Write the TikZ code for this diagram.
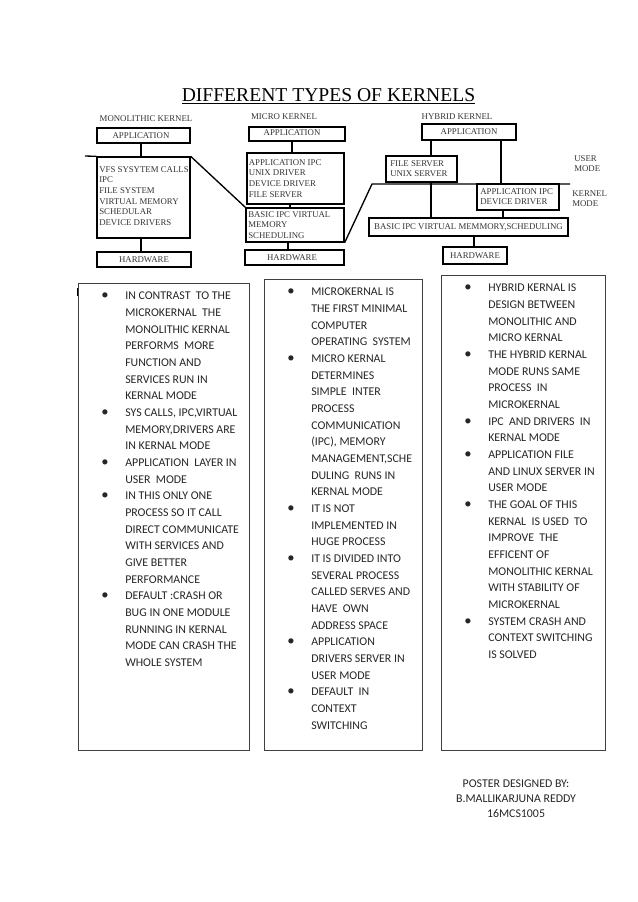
\documentclass[tikz,border=0pt]{standalone}
\usepackage{fontspec}
\setmainfont{Liberation Serif}
\newfontfamily\bodyfont{Carlito}
\usetikzlibrary{positioning}
\newcommand{\itm}{\llap{{\fontsize{11}{12.53}\selectfont\textbullet}\hspace{12.5pt}}}
\tikzset{
  sized/.style 2 args = {minimum width=#1*0.75pt, minimum height=#2*0.75pt},
  box/.style = {draw, line width=1pt, inner sep=0pt, font=\fontsize{6.6}{8}\selectfont, text=black!80},
  lbl/.style = {inner sep=0pt, align=left, font=\fontsize{6.6}{8}\selectfont, text=black!80},
  panel/.style = {draw=black!75, line width=0.6pt, inner sep=0pt},
  item/.style = {inner sep=0pt, anchor=north west, align=left, font=\bodyfont\fontsize{8.9}{12.5}\selectfont, text=black!85},
  link/.style = {line width=1pt}
}
\begin{document}
\begin{tikzpicture}[x=0.75pt,y=-0.75pt]
\useasboundingbox (0,0) rectangle (638,902);

\node[inner sep=1pt, font=\fontsize{14.7}{18}\selectfont] (title) at (328.5,96.5) {\underline{DIFFERENT TYPES OF KERNELS}};

% monolithic
\coordinate (monox) at (141,0);
\node[lbl] (monolabel) at (146,118.5) {MONOLITHIC KERNEL};
\node[box, sized={93}{15}] (monoapp) at (143.5,135.5) {};
\node[lbl] (monoapptext) at (141,136) {APPLICATION};
\node[box, sized={93}{81}] (monocore) at (143.5,197.5) {};
\node[lbl, anchor=north west] (monotext) at (99,166) {VFS SYSYTEM CALLS\\IPC\\FILE SYSTEM\\VIRTUAL MEMORY\\SCHEDULAR\\DEVICE DRIVERS};
\node[box, sized={94}{15}] (monohw) at (144,259.5) {HARDWARE};
\draw[link] (monoapp.south -| monox) -- (monocore.north -| monox);
\draw[link] (monocore.south -| monox) -- (monohw.north -| monox);

% micro
\coordinate (microx) at (292,0);
\coordinate (microy) at (290,0);
\coordinate (microz) at (288,0);
\node[lbl] (microlabel) at (284,116.5) {MICRO KERNEL};
\node[box, sized={96}{14}] (microapp) at (297,134) {};
\node[lbl] (microapptext) at (292,132.5) {APPLICATION};
\node[box, sized={97}{51}] (microup) at (295.5,178.5) {};
\node[lbl, anchor=north west] (microtext) at (248.5,159) {APPLICATION IPC\\UNIX DRIVER\\DEVICE DRIVER\\FILE SERVER};
\node[box, sized={98}{34}] (microbase) at (295,225) {};
\node[lbl, anchor=north west] (basetext) at (248,211) {BASIC IPC VIRTUAL\\MEMORY\\SCHEDULING};
\node[box, sized={99}{15}] (microhw) at (294.5,257.5) {};
\node[lbl] (microhwtext) at (292,257.5) {HARDWARE};
\draw[link] (microapp.south -| microx) -- (microup.north -| microx);
\draw[link] (microup.south -| microy) -- (microbase.north -| microy);
\draw[link] (microbase.south -| microz) -- (microhw.north -| microz);

% hybrid
\coordinate (hybx) at (431,0);
\coordinate (hyby) at (501,0);
\coordinate (hybz) at (503,0);
\coordinate (hybw) at (474,0);
\node[lbl] (hyblabel) at (457,116.5) {HYBRID KERNEL};
\node[box, sized={94}{16}] (hybapp) at (469,132) {APPLICATION};
\node[box, sized={71}{26}] (hybfile) at (421.5,169) {};
\node[lbl, anchor=north west] (filetext) at (390,160) {FILE SERVER\\UNIX SERVER};
\node[box, sized={82}{26}] (hybipc) at (518,197) {};
\node[lbl, anchor=north west] (ipctext) at (480,188) {APPLICATION IPC\\DEVICE DRIVER};
\node[box, sized={199}{18}] (hybbase) at (468.5,227) {BASIC IPC VIRTUAL MEMMORY,SCHEDULING};
\node[box, sized={64}{17}] (hybhw) at (475,255.5) {HARDWARE};
\draw[link] (hybapp.south -| hybx) -- (hybfile.north -| hybx);
\draw[link] (hybapp.south -| hyby) -- (hybipc.north -| hyby);
\draw[link] (hybfile.south -| hybx) -- (hybbase.north -| hybx);
\draw[link] (hybipc.south -| hybz) -- (hybbase.north -| hybz);
\draw[link] (hybbase.south -| hybw) -- (hybhw.north -| hybw);

\node[lbl, anchor=north west] (usermode) at (574,155) {USER\\MODE};
\node[lbl, anchor=north west] (kernelmode) at (572,190) {KERNEL\\MODE};

% mode boundary
\coordinate (modeleft) at (85,156);
\coordinate (modebend) at (372,184);
\coordinate (moderight) at (570,184);
\draw[link] (modeleft) -- (monocore.north west);
\draw[link] (monocore.north east) -- (microbase.north west);
\draw[link] (microbase.south east) -- (modebend) -- (moderight);

% text panels
\node[panel, sized={171}{467}] (panelmono) at (163.5,516.5) {};
\node[panel, sized={158}{471}] (panelmicro) at (343,514.5) {};
\node[panel, sized={164}{475}] (panelhyb) at (523,512.5) {};

\coordinate (marka) at (77,288);
\coordinate (markb) at (77,296);
\draw[line width=0.6pt] (marka) -- (markb);

\node[item] (monotxt) at (125,292) {\itm IN CONTRAST~ TO THE\\MICROKERNAL~ THE\\MONOLITHIC KERNAL\\PERFORMS~ MORE\\FUNCTION AND\\SERVICES RUN IN\\KERNAL MODE\\
\itm SYS CALLS, IPC,VIRTUAL\\MEMORY,DRIVERS ARE\\IN KERNAL MODE\\
\itm APPLICATION~ LAYER IN\\USER~ MODE\\
\itm IN THIS ONLY ONE\\PROCESS SO IT CALL\\DIRECT COMMUNICATE\\WITH SERVICES AND\\GIVE BETTER\\PERFORMANCE\\
\itm DEFAULT :CRASH OR\\BUG IN ONE MODULE\\RUNNING IN KERNAL\\MODE CAN CRASH THE\\WHOLE SYSTEM};

\node[item] (microtxt) at (311,288) {\itm MICROKERNAL IS\\THE FIRST MINIMAL\\COMPUTER\\OPERATING~ SYSTEM\\
\itm MICRO KERNAL\\DETERMINES\\SIMPLE~ INTER\\PROCESS\\COMMUNICATION\\(IPC), MEMORY\\MANAGEMENT,SCHE\\DULING~ RUNS IN\\KERNAL MODE\\
\itm IT IS NOT\\IMPLEMENTED IN\\HUGE PROCESS\\
\itm IT IS DIVIDED INTO\\SEVERAL PROCESS\\CALLED SERVES AND\\HAVE~ OWN\\ADDRESS SPACE\\
\itm APPLICATION\\DRIVERS SERVER IN\\USER MODE\\
\itm DEFAULT~ IN\\CONTEXT\\SWITCHING};

\node[item] (hybtxt) at (488,284) {\itm HYBRID KERNAL IS\\DESIGN BETWEEN\\MONOLITHIC AND\\MICRO KERNAL\\
\itm THE HYBRID KERNAL\\MODE RUNS SAME\\PROCESS~ IN\\MICROKERNAL\\
\itm IPC~ AND DRIVERS~ IN\\KERNAL MODE\\
\itm APPLICATION FILE\\AND LINUX SERVER IN\\USER MODE\\
\itm THE GOAL OF THIS\\KERNAL~ IS USED~ TO\\IMPROVE~ THE\\EFFICENT OF\\MONOLITHIC KERNAL\\WITH STABILITY OF\\MICROKERNAL\\
\itm SYSTEM CRASH AND\\CONTEXT SWITCHING\\IS SOLVED};

\node[item, anchor=north, align=center, font=\bodyfont\fontsize{8.9}{11.2}\selectfont] (credit) at (516,780) {POSTER DESIGNED BY:\\B.MALLIKARJUNA REDDY\\16MCS1005};
\end{tikzpicture}
\end{document}
